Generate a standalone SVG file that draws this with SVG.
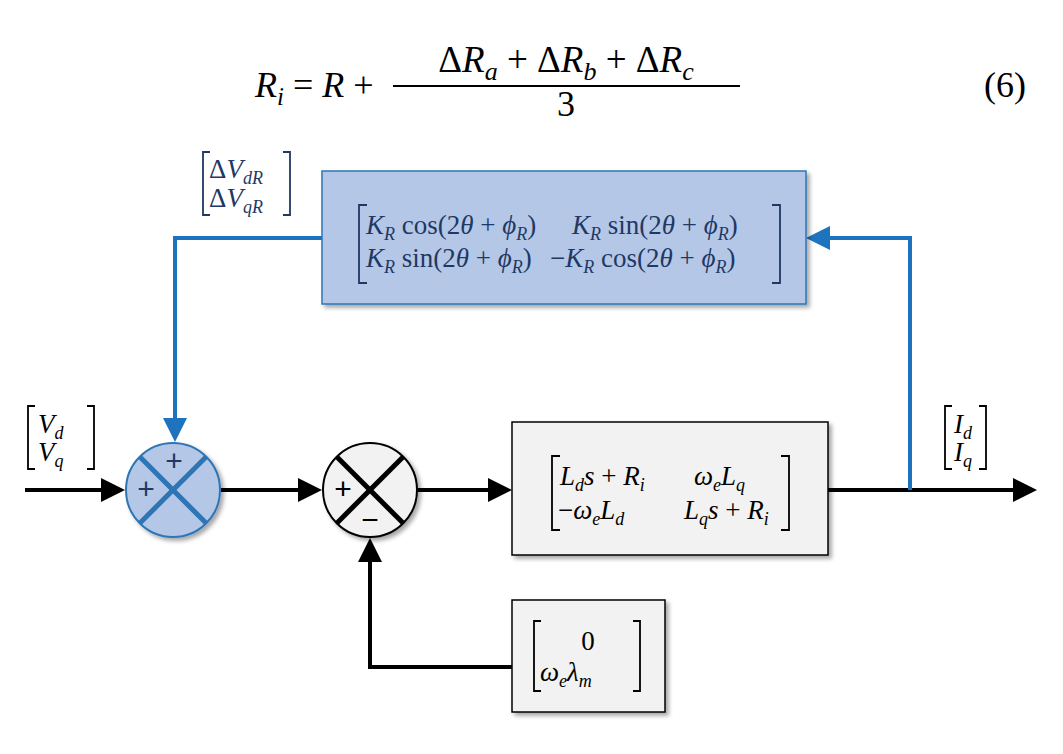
<svg xmlns="http://www.w3.org/2000/svg" width="1063" height="754" viewBox="0 0 1063 754">
<defs>
<style>
text{font-family:"Liberation Serif","DejaVu Serif",serif;}
.m{font-size:27px;font-style:italic;fill:#000}
.b{fill:#1f3864}
.up{font-style:normal}
.sub{font-size:18px}
.brk{fill:none;stroke:#000;stroke-width:1.8}
.brkb{fill:none;stroke:#1f3864;stroke-width:1.8}
.wire{fill:none;stroke:#000;stroke-width:4}
.bwire{fill:none;stroke:#1e73be;stroke-width:4}
.x{stroke:#000;stroke-width:5}
.xb{stroke:#2e75b6;stroke-width:5}
.sign{font-family:"Liberation Sans",sans-serif;font-size:30px}
</style>
<marker id="ak" markerWidth="6" markerHeight="6" refX="5" refY="3" orient="auto" markerUnits="strokeWidth"><path d="M0,0 L6,3 L0,6 Z" fill="#000"/></marker>
<marker id="ab" markerWidth="6" markerHeight="6" refX="5" refY="3" orient="auto" markerUnits="strokeWidth"><path d="M0,0 L6,3 L0,6 Z" fill="#1e73be"/></marker>
<filter id="sh" x="-10%" y="-10%" width="130%" height="130%"><feDropShadow dx="3" dy="3" stdDeviation="2" flood-opacity="0.35"/></filter>
</defs>
<rect width="1063" height="754" fill="#fff"/>
<g id="equation">
<text x="255" y="97" style="font-size:36px;font-style:italic">R<tspan style="font-size:25px" dy="8">i</tspan><tspan dy="-8" style="font-style:normal"> = </tspan>R<tspan style="font-style:normal"> + </tspan></text>
<text x="566" y="72" text-anchor="middle" style="font-size:37px;font-style:italic"><tspan style="font-style:normal">Δ</tspan>R<tspan style="font-size:26px" dy="8">a</tspan><tspan dy="-8" style="font-style:normal"> + Δ</tspan>R<tspan style="font-size:26px" dy="8">b</tspan><tspan dy="-8" style="font-style:normal"> + Δ</tspan>R<tspan style="font-size:26px" dy="8">c</tspan></text>
<line x1="393" y1="86" x2="740" y2="86" stroke="#000" stroke-width="2"/>
<text x="566" y="116" text-anchor="middle" style="font-size:36px">3</text>
<text x="1005" y="97" text-anchor="middle" style="font-size:36px">(6)</text>
</g>
<g id="connectors">
<path class="wire" d="M25,490 H121" marker-end="url(#ak)"/>
<path class="wire" d="M221,490 H318" marker-end="url(#ak)"/>
<path class="wire" d="M418,490 H508" marker-end="url(#ak)"/>
<path class="wire" d="M828,490 H1033" marker-end="url(#ak)"/>
<path class="wire" d="M512,667 H370 V542" marker-end="url(#ak)"/>
<path class="bwire" d="M322,238 H175 V438" marker-end="url(#ab)"/>
<path class="bwire" d="M910,490 V238 H810" marker-end="url(#ab)"/>
</g>
<g id="kr-block">
<rect x="322" y="171" width="484" height="133" fill="#b4c7e7" stroke="#2e75b6" stroke-width="1.5" filter="url(#sh)"/>
<path class="brkb" d="M367,205 h-8 v78 h8"/>
<path class="brkb" d="M772,205 h8 v78 h-8"/>
<g class="m b">
<text x="366" y="234">K<tspan class="sub" dy="6">R</tspan><tspan class="up" dy="-6"> cos(2</tspan>θ<tspan class="up"> + </tspan>ϕ<tspan class="sub" dy="6">R</tspan><tspan class="up" dy="-6">)</tspan></text>
<text x="572" y="234">K<tspan class="sub" dy="6">R</tspan><tspan class="up" dy="-6"> sin(2</tspan>θ<tspan class="up"> + </tspan>ϕ<tspan class="sub" dy="6">R</tspan><tspan class="up" dy="-6">)</tspan></text>
<text x="366" y="267">K<tspan class="sub" dy="6">R</tspan><tspan class="up" dy="-6"> sin(2</tspan>θ<tspan class="up"> + </tspan>ϕ<tspan class="sub" dy="6">R</tspan><tspan class="up" dy="-6">)</tspan></text>
<text x="550" y="267"><tspan class="up">−</tspan>K<tspan class="sub" dy="6">R</tspan><tspan class="up" dy="-6"> cos(2</tspan>θ<tspan class="up"> + </tspan>ϕ<tspan class="sub" dy="6">R</tspan><tspan class="up" dy="-6">)</tspan></text>
</g>
</g>
<g id="dv-label" class="m b">
<path class="brkb" d="M210,152 h-7 v63 h7"/>
<path class="brkb" d="M283,152 h7 v63 h-7"/>
<text x="209" y="178"><tspan class="up">Δ</tspan>V<tspan class="sub" dy="6">dR</tspan></text>
<text x="209" y="207"><tspan class="up">Δ</tspan>V<tspan class="sub" dy="6">qR</tspan></text>
</g>
<g id="sum1">
<circle cx="173" cy="490" r="47" fill="#b4c7e7" stroke="#2e75b6" stroke-width="2" filter="url(#sh)"/>
<line class="xb" x1="140" y1="457" x2="206" y2="523"/>
<line class="xb" x1="206" y1="457" x2="140" y2="523"/>
<text class="sign b" x="174" y="471" text-anchor="middle">+</text>
<text class="sign b" x="146" y="499" text-anchor="middle">+</text>
</g>
<g id="sum2">
<circle cx="370" cy="490" r="47" fill="#f2f2f2" stroke="#000" stroke-width="2" filter="url(#sh)"/>
<line class="x" x1="337" y1="457" x2="403" y2="523"/>
<line class="x" x1="403" y1="457" x2="337" y2="523"/>
<text class="sign" x="343" y="499" text-anchor="middle">+</text>
<text class="sign" x="370" y="530" text-anchor="middle">−</text>
</g>
<g id="plant">
<rect x="512" y="422" width="316" height="133" fill="#f2f2f2" stroke="#000" stroke-width="1.5" filter="url(#sh)"/>
<path class="brk" d="M560,456 h-8 v74 h8"/>
<path class="brk" d="M781,456 h8 v74 h-8"/>
<g class="m">
<text x="560" y="485">L<tspan class="sub" dy="6">d</tspan><tspan dy="-6">s</tspan><tspan class="up"> + </tspan>R<tspan class="sub" dy="6">i</tspan></text>
<text x="694" y="485">ω<tspan class="sub" dy="6">e</tspan><tspan dy="-6">L</tspan><tspan class="sub" dy="6">q</tspan></text>
<text x="558" y="519"><tspan class="up">−</tspan>ω<tspan class="sub" dy="6">e</tspan><tspan dy="-6">L</tspan><tspan class="sub" dy="6">d</tspan></text>
<text x="684" y="519">L<tspan class="sub" dy="6">q</tspan><tspan dy="-6">s</tspan><tspan class="up"> + </tspan>R<tspan class="sub" dy="6">i</tspan></text>
</g>
</g>
<g id="flux">
<rect x="512" y="600" width="153" height="112" fill="#f2f2f2" stroke="#000" stroke-width="1.5" filter="url(#sh)"/>
<path class="brk" d="M541,621 h-7 v70 h7"/>
<path class="brk" d="M633,621 h7 v70 h-7"/>
<text class="m" x="588" y="650" text-anchor="middle" style="font-style:normal">0</text>
<text class="m" x="540" y="681">ω<tspan class="sub" dy="6">e</tspan><tspan dy="-6">λ</tspan><tspan class="sub" dy="6">m</tspan></text>
</g>
<g id="in-label" class="m">
<path class="brk" d="M35,406 h-7 v63 h7"/>
<path class="brk" d="M87,406 h7 v63 h-7"/>
<text x="38" y="433">V<tspan class="sub" dy="6">d</tspan></text>
<text x="38" y="461">V<tspan class="sub" dy="6">q</tspan></text>
</g>
<g id="out-label" class="m">
<path class="brk" d="M952,406 h-7 v63 h7"/>
<path class="brk" d="M979,406 h7 v63 h-7"/>
<text x="954" y="433">I<tspan class="sub" dy="6">d</tspan></text>
<text x="954" y="461">I<tspan class="sub" dy="6">q</tspan></text>
</g>
</svg>
